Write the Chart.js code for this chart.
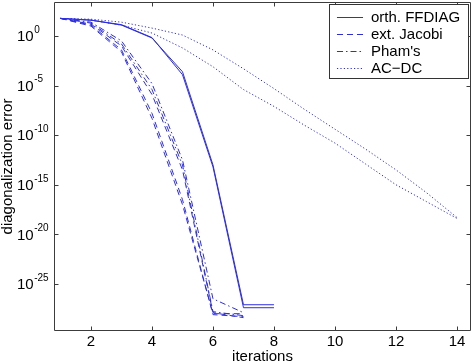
<!DOCTYPE html>
<html><head><meta charset="utf-8">
<script src="https://cdn.jsdelivr.net/npm/chart.js@4/dist/chart.umd.min.js"></script>
<style>html,body{margin:0;padding:0;background:#fff}#wrap{width:474px;height:362px}</style>
</head><body><div id="wrap"><canvas id="c" width="474" height="362"></canvas></div>
<script>
// ---- data ----
const iterations = [1, 2, 3, 4, 5, 6, 7, 8, 9, 10, 11, 12, 13, 14];
const seriesNames = ['orth. FFDIAG', 'ext. Jacobi', "Pham's", 'AC\u2212DC'];

// orth. FFDIAG (solid), two runs
const ffdiagRun1 = [60, 40, 12.6, 0.63, 2.5e-4, 1e-13, 8e-28, 8e-28];
const ffdiagRun2 = [60, 40, 14, 0.7, 1.26e-4, 6.3e-14, 4e-28, 4e-28];
// ext. Jacobi (dashed), three runs
const jacobiRun1 = [60, 10, 0.025, 5e-9, 1e-17, 1e-28, 1e-28];
const jacobiRun2 = [60, 12.6, 0.04, 1.6e-8, 3.2e-17, 8e-29, 5e-29];
const jacobiRun3 = [60, 15.8, 0.1, 1.26e-6, 3.2e-14, 1.26e-28, 4e-29];
// Pham's (dash-dot), two runs
const phamRun1 = [60, 25, 0.32, 1.6e-5, 3.2e-13, 3.2e-27, 1.26e-28];
const phamRun2 = [60, 20, 0.16, 4e-6, 1e-13, 1.6e-28, 6.3e-29];
// AC-DC (dotted), two runs
const acdcRun1 = [60, 50, 25, 6.3, 1.26, 0.04, 5e-4, 5e-6, 4e-8, 4e-10, 4e-12, 3.2e-14, 1.6e-16, 5e-19];
const acdcRun2 = [60, 40, 12.6, 2, 0.063, 8e-4, 4e-6, 8e-8, 1e-9, 1.6e-11, 1.26e-13, 1e-15, 2e-17, 4e-19];

const xTickValues = [2, 4, 6, 8, 10, 12, 14];
const yTickValues = [1e-25, 1e-20, 1e-15, 1e-10, 1e-5, 1];
const xLabel = 'iterations';
const yLabel = 'diagonalization error';

// ---- styling ----
const FONT = '"Liberation Sans", Arial, Helvetica, sans-serif';
const BLUE = 'rgb(45,45,225)';
const dashStyles = [[], [6, 4], [6, 3, 1.5, 3], [1.2, 2.2]];

function toPoints(vals) { return vals.map((v, i) => ({x: iterations[i], y: v})); }
function ds(vals, style, label) {
  return {label, data: toPoints(vals), borderColor: BLUE, borderWidth: 1,
          borderDash: dashStyles[style], pointRadius: 0, fill: false, tension: 0};
}
const datasets = [
  ds(ffdiagRun1, 0, seriesNames[0]), ds(ffdiagRun2, 0, seriesNames[0]),
  ds(jacobiRun1, 1, seriesNames[1]), ds(jacobiRun2, 1, seriesNames[1]), ds(jacobiRun3, 1, seriesNames[1]),
  ds(phamRun1, 2, seriesNames[2]), ds(phamRun2, 2, seriesNames[2]),
  ds(acdcRun1, 3, seriesNames[3]), ds(acdcRun2, 3, seriesNames[3])
];

const framePlugin = {
  id: 'frame',
  afterDraw(chart) {
    const {ctx, chartArea: a, scales: {x, y}} = chart;
    const L = a.left + 0.5, R = a.right - 0.5, T = a.top + 0.5, B = a.bottom - 0.5;
    ctx.save();
    ctx.strokeStyle = '#3c3c3c'; ctx.lineWidth = 1; ctx.setLineDash([]);
    ctx.beginPath();
    ctx.rect(L, T, R - L, B - T);
    const tl = 4;
    x.ticks.forEach(t => {
      const px = Math.round(x.getPixelForValue(t.value)) + 0.5;
      ctx.moveTo(px, B); ctx.lineTo(px, B - tl);
      ctx.moveTo(px, T); ctx.lineTo(px, T + tl);
    });
    y.ticks.forEach(t => {
      const py = Math.round(y.getPixelForValue(t.value)) + 0.5;
      ctx.moveTo(L, py); ctx.lineTo(L + tl, py);
      ctx.moveTo(R, py); ctx.lineTo(R - tl, py);
    });
    ctx.stroke();

    // y tick labels: 10 with raised exponent
    ctx.fillStyle = '#000';
    ctx.textAlign = 'left';
    ctx.textBaseline = 'middle';
    yTickValues.forEach(v => {
      const py = y.getPixelForValue(v);
      const e = String(Math.round(Math.log10(v)));
      ctx.font = '15px ' + FONT;
      ctx.fillText('10', 17, py + 1);
      const w = ctx.measureText('10').width;
      ctx.font = '10px ' + FONT;
      ctx.fillText(e, 17 + w + 0.5, py - 6);
    });

    // legend box inside the plot (upper right)
    const bx = 329.5, by = 4.5, bw = 139, bh = 74;
    ctx.fillStyle = '#fff';
    ctx.fillRect(bx, by, bw, bh);
    ctx.strokeStyle = '#333';
    ctx.strokeRect(bx, by, bw, bh);
    ctx.font = '15px ' + FONT;
    ctx.textBaseline = 'middle';
    ctx.textAlign = 'left';
    seriesNames.forEach((name, i) => {
      const ry = 17.5 + i * 17;
      ctx.strokeStyle = BLUE;
      ctx.setLineDash(dashStyles[i]);
      ctx.beginPath(); ctx.moveTo(337, ry); ctx.lineTo(363, ry); ctx.stroke();
      ctx.setLineDash([]);
      ctx.fillStyle = '#000';
      ctx.fillText(name, 371, ry);
    });
    ctx.restore();
  }
};

new Chart(document.getElementById('c'), {
  type: 'line',
  data: {datasets},
  options: {
    responsive: false, animation: false, devicePixelRatio: 1,
    layout: {padding: {left: 17, top: 2, right: 3, bottom: 0}},
    plugins: {legend: {display: false}, tooltip: {enabled: false}},
    scales: {
      x: {
        type: 'linear', min: 0.787, max: 14.46,
        grid: {display: false, drawTicks: false}, border: {display: false},
        afterBuildTicks: s => { s.ticks = xTickValues.map(v => ({value: v})); },
        afterFit: s => { s.height = 31; },
        ticks: {color: '#000', padding: 2, font: {family: FONT, size: 15}, maxRotation: 0, autoSkip: false,
                callback: v => String(v)},
        title: {display: true, text: xLabel, color: '#000', font: {family: FONT, size: 15},
                padding: {top: 0, bottom: -4}}
      },
      y: {
        type: 'logarithmic', min: 1.8e-30, max: 2.7e3,
        grid: {display: false, drawTicks: false}, border: {display: false},
        afterBuildTicks: s => { s.ticks = yTickValues.map(v => ({value: v})); },
        afterFit: s => { s.width = 37; },
        ticks: {display: false},
        title: {display: true, text: yLabel, color: '#000', font: {family: FONT, size: 15},
                padding: {top: -18, bottom: 0}}
      }
    }
  },
  plugins: [framePlugin]
});
</script></body></html>
